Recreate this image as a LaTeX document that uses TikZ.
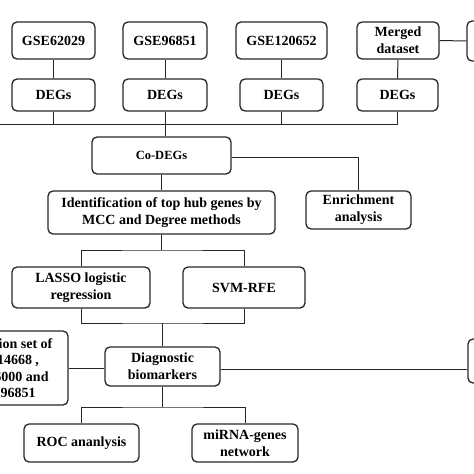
\documentclass[tikz,border=0pt]{standalone}
\usepackage{fontspec}
\setmainfont{Liberation Serif}
\begin{document}
\begin{tikzpicture}[x=1pt,y=-1pt,
  box/.style={draw=black!85, line width=1.3pt, rounded corners=5pt, align=center,
    inner sep=0pt, font=\fontsize{14}{17}\selectfont\bfseries},
  conn/.style={draw=black!85, line width=1pt}]
\useasboundingbox (0,0) rectangle (474,474);
\clip (0,0) rectangle (474,474);
% top row
\node[box, minimum width=83pt, minimum height=37pt] (g1) at (53.5,40.5) {GSE62029};
\node[box, minimum width=84pt, minimum height=37pt] (g2) at (165,40.5) {GSE96851};
\node[box, minimum width=91pt, minimum height=37pt] (g3) at (281.5,40.5) {GSE120652};
\node[box, minimum width=82pt, minimum height=37pt] (g4) at (398,40.5) {Merged\\dataset};
\node[box, minimum width=73pt, minimum height=40pt] (r1) at (503.5,41) {};
% DEGs row
\node[box, minimum width=83pt, minimum height=32pt] (d1) at (53.5,95) {DEGs};
\node[box, minimum width=84pt, minimum height=32pt] (d2) at (165,95) {DEGs};
\node[box, minimum width=83pt, minimum height=32pt] (d3) at (281.5,95) {DEGs};
\node[box, minimum width=81pt, minimum height=32pt] (d4) at (397.5,95) {DEGs};
% middle
\node[box, minimum width=139pt, minimum height=37pt, font=\fontsize{12.5}{15}\selectfont\bfseries] (co) at (161.5,155.5) {Co-DEGs};
\node[box, minimum width=227pt, minimum height=43pt] (id) at (161.5,212.5) {Identification of top hub genes by\\MCC and Degree methods};
\node[box, minimum width=105pt, minimum height=38pt] (en) at (358.5,210) {Enrichment\\analysis};
\node[box, minimum width=138pt, minimum height=41pt] (la) at (81,287.5) {LASSO logistic\\regression};
\node[box, minimum width=122pt, minimum height=41pt] (sv) at (244,287.5) {SVM-RFE};
\node[box, minimum width=115pt, minimum height=39pt] (dg) at (162.5,366.5) {Diagnostic\\biomarkers};
\node[box, minimum width=128pt, minimum height=74pt, font=\fontsize{14}{16.5}\selectfont\bfseries] (lf) at (4,368) {Validation set of\\GSE14668 ,\\GSE36000 and\\GSE96851};
\node[box, minimum width=72pt, minimum height=44pt] (r2) at (504,361) {};
\node[box, minimum width=115pt, minimum height=38pt] (roc) at (81.5,443) {ROC ananlysis};
\node[box, minimum width=106pt, minimum height=38pt] (mi) at (245,443) {miRNA-genes\\network};
% connectors
\coordinate (busL) at (-10,124);
\foreach \i in {1,2,3,4} \draw[conn] (g\i) -- (d\i);
\draw[conn] (busL) -- (d4.south |- busL) -- (d4.south);
\draw[conn] (d1.south) -- (d1.south |- busL);
\draw[conn] (d3.south) -- (d3.south |- busL);
\draw[conn] (d2.south) -- (d2.south |- co.north);
\draw[conn] (g4.east) -- (r1.west);
\draw[conn] ([yshift=-2pt]co.east) -| (en.north);
\draw[conn] (co.south) -- (id.north);
\coordinate (b2) at (161.5,250);
\draw[conn] (id.south) -- (b2);
\draw[conn] (la.north) |- (b2) -| (sv.north);
\coordinate (b3) at (162.5,323);
\draw[conn] (la.south) |- (b3) -| (sv.south);
\draw[conn] (b3) -- (dg.north);
\draw[conn] (lf.east) -- (lf.east -| dg.west);
\draw[conn] ([yshift=-2.5pt]dg.east) -- ([yshift=-2.5pt]dg.east -| r2.west);
\coordinate (b4) at (162.5,407);
\draw[conn] (dg.south) -- (b4);
\draw[conn] (roc.north) |- (b4) -| (mi.north);
\end{tikzpicture}
\end{document}
